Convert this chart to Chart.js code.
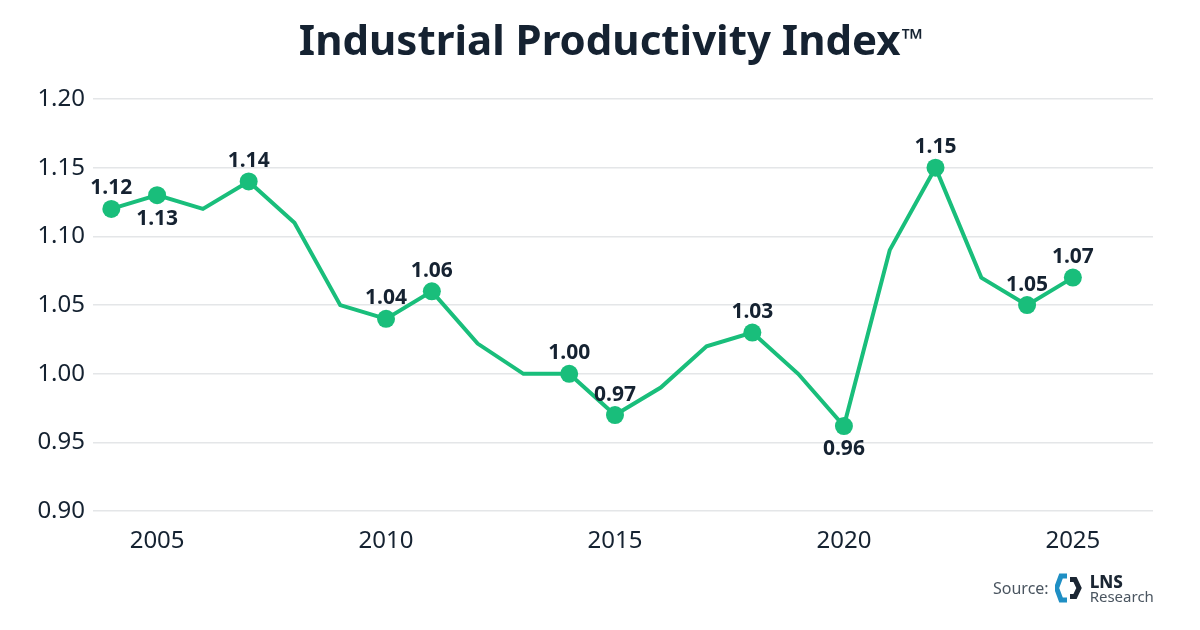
<!DOCTYPE html>
<html>
<head>
<meta charset="utf-8">
<script src="https://cdn.jsdelivr.net/npm/chart.js@4/dist/chart.umd.min.js"></script>
<style>
  html, body { margin: 0; padding: 0; background: #fff; }
  #wrap { position: relative; width: 1200px; height: 630px; }
  #title { position: absolute; left: 11px; top: 13px; width: 1200px; text-align: center;
           font-family: "Noto Sans", sans-serif; font-weight: 700; font-size: 42px; line-height: 52px; color: #152231; }
  #title .tm { font-size: 28px; position: relative; top: -6px; margin-left: 1px; }
  #source { position: absolute; left: 993px; top: 571px; height: 34px; display: flex; align-items: center;
            font-family: "Noto Sans", sans-serif; color: #4a5560; font-size: 16px; }
  #source svg { margin-left: 6px; }
  #lns { margin-left: 7px; line-height: 1; }
  #lns b { display: block; font-size: 17px; color: #1b2633; font-weight: 800; margin-bottom: -1px; }
  #lns span { display: block; font-size: 15px; color: #4a5560; }
</style>
</head>
<body>
<div id="wrap">
  <canvas id="chart" width="1200" height="630"></canvas>
  <div id="title">Industrial Productivity Index<span class="tm">™</span></div>
  <div id="source">Source:
    <svg width="28" height="30" viewBox="0 0 28 30">
      <polyline points="12,3 6,3 1.5,15 6,27 12,27" fill="none" stroke="#1f8fc4" stroke-width="5" stroke-linejoin="miter"/>
      <polyline points="15,6.5 20,6.5 24,15 20,23.5 15,23.5" fill="none" stroke="#1b2633" stroke-width="5" stroke-linejoin="miter"/>
    </svg>
    <div id="lns"><b>LNS</b><span>Research</span></div>
  </div>
</div>
<script>
const years = [2004, 2005, 2006, 2007, 2008, 2009, 2010, 2011, 2012, 2013, 2014,
               2015, 2016, 2017, 2018, 2019, 2020, 2021, 2022, 2023, 2024, 2025];
const indexValues = [1.12, 1.13, 1.12, 1.14, 1.11, 1.05, 1.04, 1.06, 1.022, 1.00, 1.00,
                     0.97, 0.99, 1.02, 1.03, 1.00, 0.962, 1.09, 1.15, 1.07, 1.05, 1.07];
// which points get a dot + value label, and where the label sits
const labelled = [1, 1, 0, 1, 0, 0, 1, 1, 0, 0, 1, 1, 0, 0, 1, 0, 1, 0, 1, 0, 1, 1];
const labelSide = ['up', 'down', '', 'up', '', '', 'up', 'up', '', '', 'up', 'up', '', '', 'up', '', 'down', '', 'up', '', 'up', 'up'];
const xTicks = [2005, 2010, 2015, 2020, 2025];
const yTicks = [0.90, 0.95, 1.00, 1.05, 1.10, 1.15, 1.20];

const green = '#19be7b';
const ink = '#152231';
const fontFamily = '"Noto Sans", sans-serif';

const valueLabels = {
    id: 'valueLabels',
    afterDatasetsDraw(chart) {
        const ctx = chart.ctx;
        const meta = chart.getDatasetMeta(0);
        ctx.save();
        ctx.font = '700 21px ' + fontFamily;
        ctx.fillStyle = ink;
        ctx.textAlign = 'center';
        meta.data.forEach(function(pt, i) {
            if (!labelled[i]) return;
            const txt = indexValues[i].toFixed(2);
            if (labelSide[i] === 'down') {
                ctx.textBaseline = 'top';
                ctx.fillText(txt, pt.x, pt.y + 13);
            } else {
                ctx.textBaseline = 'bottom';
                ctx.fillText(txt, pt.x, pt.y - 10);
            }
        });
        ctx.restore();
    }
};

const ctx = document.getElementById('chart').getContext('2d');
new Chart(ctx, {
    type: 'line',
    data: {
        datasets: [{
            data: years.map(function(y, i) { return { x: y, y: indexValues[i] }; }),
            borderColor: green,
            backgroundColor: green,
            borderWidth: 4,
            pointRadius: labelled.map(function(l) { return l ? 9 : 0; }),
            pointBackgroundColor: green,
            pointBorderWidth: 0,
            tension: 0
        }]
    },
    plugins: [valueLabels],
    options: {
        responsive: false,
        animation: false,
        layout: { padding: { left: 0, right: 47, top: 99, bottom: 66 } },
        plugins: {
            legend: { display: false },
            tooltip: { enabled: false },
            title: { display: false }
        },
        scales: {
            x: {
                type: 'linear',
                min: 2003.6,
                max: 2026.75,
                afterBuildTicks: function(scale) {
                    scale.ticks = xTicks.map(function(v) { return { value: v }; });
                },
                grid: { display: false },
                border: { display: false },
                ticks: {
                    color: ink,
                    font: { family: fontFamily, size: 24 },
                    padding: 8,
                    maxRotation: 0,
                    callback: function(v) { return String(v); }
                }
            },
            y: {
                min: 0.90,
                max: 1.20,
                afterBuildTicks: function(scale) {
                    scale.ticks = yTicks.map(function(v) { return { value: v }; });
                },
                afterFit: function(scale) { scale.width = 93; },
                grid: { color: '#e4e6e8', lineWidth: 1.5, drawTicks: false },
                border: { display: false },
                ticks: {
                    color: ink,
                    font: { family: fontFamily, size: 24 },
                    padding: 8,
                    callback: function(v) { return v.toFixed(2); }
                }
            }
        }
    }
});
</script>
</body>
</html>
